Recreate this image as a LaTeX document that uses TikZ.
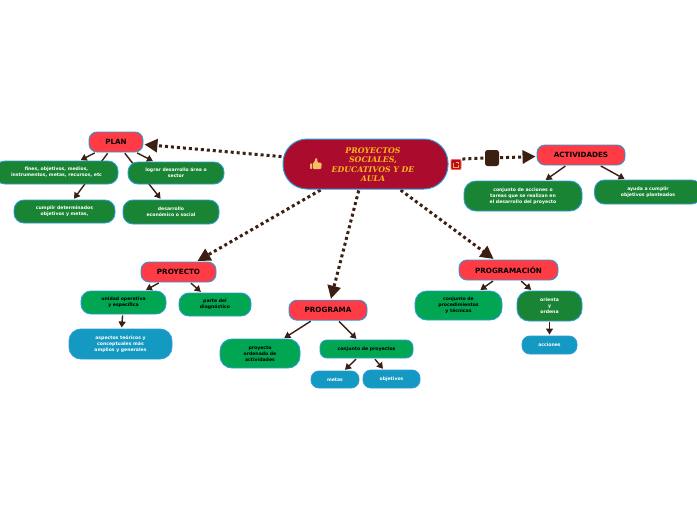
\documentclass[tikz,border=0pt]{standalone}
\usepackage{fontspec}
\setmainfont{DejaVu Sans}
\newfontfamily\rootfont{DejaVu Serif}
\usetikzlibrary{arrows.meta,backgrounds}
\definecolor{linkbrown}{HTML}{3A1F12}
\definecolor{rootred}{HTML}{AB0C2D}
\definecolor{titlered}{HTML}{FF3B46}
\definecolor{darkgreen}{HTML}{1A8435}
\definecolor{brightgreen}{HTML}{00A651}
\definecolor{tealblue}{HTML}{1499C2}
\definecolor{edgeblue}{HTML}{2F9BD8}
\definecolor{goldtext}{HTML}{FBB81C}
\definecolor{thumbcol}{HTML}{F4BE62}
\tikzset{
  box/.style={draw=edgeblue,line width=0.9pt,inner sep=0pt,align=center,font=\bfseries\fontsize{4.6}{6}\selectfont},
  titlebox/.style={box,fill=titlered,text=black,rounded corners=8pt,font=\bfseries\fontsize{7.2}{9}\selectfont},
  dgreen/.style={box,fill=darkgreen,text=white,rounded corners=10pt},
  bgreen/.style={box,fill=brightgreen,text=black,rounded corners=10pt},
  blueb/.style={box,fill=tealblue,text=white,rounded corners=8pt},
  mainlink/.style={draw=linkbrown,line width=3pt,dash pattern=on 3pt off 3pt,shorten >=1pt,shorten <=1pt},
  mainhead/.style={-{Triangle[length=13pt,width=13pt,color=linkbrown]}},
  sublink/.style={draw=linkbrown,line width=1.4pt,shorten >=1pt,shorten <=1pt,-{Triangle[length=6pt,width=7pt,color=linkbrown]}}
}
\begin{document}
\begin{tikzpicture}[x=1pt,y=-1pt]
\useasboundingbox (0,0) rectangle (697,520);
% root
\node[draw=edgeblue,line width=1pt,fill=rootred,rounded corners=24pt,minimum width=165pt,minimum height=50pt,inner sep=0pt] (root) at (365.5,164) {};
\node[text=goldtext,align=center,font=\rootfont\bfseries\itshape\fontsize{7.8}{9.3}\selectfont,inner sep=0pt] (roottext) at (373,164.8) {PROYECTOS\\SOCIALES,\\EDUCATIVOS Y DE\\AULA};
% thumb
\fill[thumbcol,rounded corners=0.8pt] (310.2,163.3) rectangle (312.2,169);
\fill[thumbcol,rounded corners=1pt] (312.8,169) -- (312.8,163.2) -- (315,161) -- (315.3,158) -- (317.2,158.2) -- (317.4,162.6) -- (321.8,162.8) -- (321.2,169) -- cycle;
% level 1
\node[titlebox,minimum width=54pt,minimum height=20pt] (plan) at (116,142) {PLAN};
\node[titlebox,minimum width=75pt,minimum height=20pt] (proyecto) at (178.5,272) {PROYECTO};
\node[titlebox,minimum width=78pt,minimum height=20pt] (programa) at (328,310.2) {PROGRAMA};
\node[titlebox,minimum width=99pt,minimum height=20pt] (programacion) at (508.5,270) {PROGRAMACIÓN};
\node[titlebox,minimum width=88pt,minimum height=20pt] (actividades) at (581,155) {ACTIVIDADES};
% plan children
\node[dgreen,minimum width=123pt,minimum height=23pt] (fines) at (56.5,172.5) {fines, objetivos, medios,\\instrumentos, metas, recursos, etc};
\node[dgreen,minimum width=96pt,minimum height=22pt] (lograr) at (176,173) {lograr desarrollo área o\\sector};
\node[dgreen,minimum width=101pt,minimum height=23pt] (cumplir) at (64.5,211.5) {cumplir determinados\\objetivos y metas,};
\node[dgreen,minimum width=96pt,minimum height=24pt] (desarrollo) at (171,212) {desarrollo\\económico o social};
% proyecto children
\node[bgreen,minimum width=85pt,minimum height=23pt] (unidad) at (123.5,302.5) {unidad operativa\\y específica};
\node[bgreen,minimum width=72pt,minimum height=23pt] (parte) at (215,304.5) {parte del\\diagnóstico};
\node[blueb,rounded corners=12pt,minimum width=103pt,minimum height=30pt] (aspectos) at (120.5,344) {aspectos teóricos y\\conceptuales más\\amplios y generales};
% programa children
\node[bgreen,rounded corners=12pt,minimum width=80pt,minimum height=29pt] (ordenado) at (260,353.5) {proyecto\\ordenado de\\actividades};
\node[bgreen,rounded corners=7pt,minimum width=93pt,minimum height=18pt] (conjproy) at (366.5,349) {conjunto de proyectos};
\node[blueb,minimum width=48pt,minimum height=17pt] (metas) at (335,379.5) {metas};
\node[blueb,minimum width=57pt,minimum height=18pt] (objetivos) at (391.5,379) {objetivos};
% programacion children
\node[bgreen,rounded corners=12pt,minimum width=87pt,minimum height=29pt] (conjproc) at (458.5,305.5) {conjunto de\\procedimientos\\y técnicas};
\node[dgreen,rounded corners=12pt,minimum width=65pt,minimum height=30pt] (orienta) at (549.5,306) {orienta\\y\\ordena};
\node[blueb,minimum width=55pt,minimum height=18pt] (acciones) at (549.5,345) {acciones};
% actividades children
\node[dgreen,rounded corners=12pt,minimum width=118pt,minimum height=30pt] (conjacc) at (523,196) {conjunto de acciones o\\tareas que se realizan en\\el desarrollo del proyecto};
\node[dgreen,minimum width=107pt,minimum height=24pt] (ayuda) at (648,192) {ayuda a cumplir\\objetivos planteados};
% icon and knob
\node[draw=titlered!80!white,line width=0.8pt,fill=rootred!85!red,rounded corners=1pt,minimum size=10pt,inner sep=0pt] (icon) at (456,164.5) {};
\node[fill=linkbrown,rounded corners=2.5pt,minimum width=14pt,minimum height=16pt,inner sep=0pt] (knob) at (492,158) {};
\draw[goldtext,line width=0.6pt] (453.5,162.5) -- (453.5,167) -- (458,167) -- (458,165);
\draw[goldtext,line width=0.6pt] (455.5,162) -- (458.5,162) -- (458.5,164);
\begin{scope}[on background layer]
\fill[white] (0,0) rectangle (697,520);
\draw[mainlink,mainhead] (root) -- (plan);
\draw[mainlink,mainhead] (root) -- (proyecto);
\draw[mainlink,mainhead] (root) -- (programa);
\draw[mainlink,mainhead] (root) -- (programacion);
\draw[mainlink] (icon.north east) -- (knob.west);
\draw[mainlink,mainhead] (knob) -- (actividades);
\draw[sublink] (plan) -- (fines);
\draw[sublink] (plan) -- (cumplir);
\draw[sublink] (plan) -- (lograr);
\draw[sublink] (plan) -- (desarrollo);
\draw[sublink] (proyecto) -- (unidad);
\draw[sublink] (proyecto) -- (parte);
\draw[sublink] (unidad) -- (aspectos);
\draw[sublink] (programa) -- (ordenado);
\draw[sublink] (programa) -- (conjproy);
\draw[sublink] (conjproy) -- (metas);
\draw[sublink] (conjproy) -- (objetivos);
\draw[sublink] (programacion) -- (conjproc);
\draw[sublink] (programacion) -- (orienta);
\draw[sublink] (orienta) -- (acciones);
\draw[sublink] (actividades) -- (conjacc);
\draw[sublink] (actividades) -- (ayuda);
\end{scope}
\end{tikzpicture}
\end{document}
